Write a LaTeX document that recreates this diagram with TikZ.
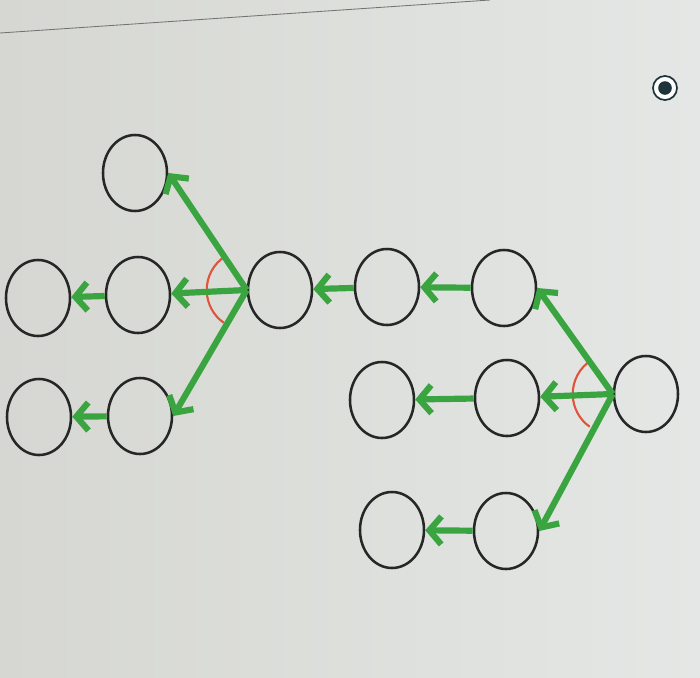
\documentclass[tikz,border=0pt]{standalone}
\usepackage{tikz}
\usepackage{xcolor}
\usetikzlibrary{shapes.geometric}
\usetikzlibrary{arrows.meta}

\definecolor{bgleft}{RGB}{214,215,210}
\definecolor{bgright}{RGB}{228,231,229}
\definecolor{arrowgreen}{RGB}{58,165,64}
\definecolor{markred}{RGB}{226,84,58}
\definecolor{dotdark}{RGB}{30,52,58}

\begin{document}
\begin{tikzpicture}[x=0.025cm, y=-0.025cm, every path/.style={>={Straight Barb[length=3mm,width=7mm]}},
	ring/.style={ellipse,draw=black!85,line width=1.8pt,minimum width=1.6cm,minimum height=1.9cm},
	flow/.style={->,draw=arrowgreen,line width=4.4pt},
	anglemark/.style={draw=markred,line width=1.5pt}]
	\useasboundingbox (0,0) rectangle (700,678);
	\fill[left color=bgleft, right color=bgright] (0,0) rectangle (700,678);
	\draw[black!55, line width=0.6pt] (0,33) -- (490,0);
	\node (Radio) at (665,88) [circle,draw=dotdark,fill=white,line width=1.2pt,minimum size=0.6cm] {};
	\node (RadioDot) at (Radio) [circle,fill=dotdark,minimum size=0.34cm] {};
	% left tree
	\node (N1) at (135,173) [ring] {};
	\node (N2) at (38,298) [ring] {};
	\node (N3) at (138,295) [ring] {};
	\node (N4) at (280,290) [ring] {};
	\node (N5) at (387,287) [ring] {};
	\node (N6) at (504,288) [ring] {};
	\node (N7) at (39,417) [ring] {};
	\node (N8) at (140,416) [ring] {};
	% right tree
	\node (N9) at (382,400) [ring] {};
	\node (N10) at (507,398) [ring] {};
	\node (N11) at (646,394) [ring] {};
	\node (N12) at (392,530) [ring] {};
	\node (N13) at (506,531) [ring] {};
	\draw[anglemark] ([shift={(122:1cm)}]N4.west) arc[start angle=122, end angle=235, radius=1cm];
	\draw[anglemark] ([shift={(122:1cm)}]N11.west) arc[start angle=122, end angle=235, radius=1cm];
	\draw[flow] (N4.west) -- (N1.east);
	\draw[flow] (N4.west) -- (N3);
	\draw[flow] (N4.west) -- (N8.east);
	\draw[flow] (N3) -- (N2);
	\draw[flow] (N8) -- (N7);
	\draw[flow] (N5) -- (N4);
	\draw[flow] (N6) -- (N5);
	\draw[flow] (N11.west) -- (N6.east);
	\draw[flow] (N11.west) -- (N10);
	\draw[flow] (N11.west) -- (N13.east);
	\draw[flow] (N10) -- (N9);
	\draw[flow] (N13) -- (N12);
\end{tikzpicture}
\end{document}
